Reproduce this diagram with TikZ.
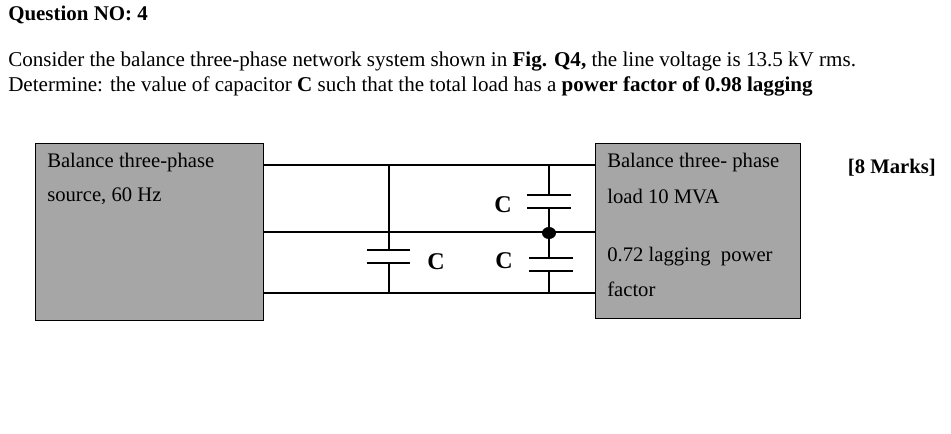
\documentclass[tikz,border=0pt]{standalone}
\usepackage{fontspec}
\setmainfont{Liberation Serif}
\begin{document}
\begin{tikzpicture}[x=0.75pt,y=-0.75pt,
  box/.style={draw=black,fill=black!35,line width=0.8pt},
  wire/.style={line width=1.4pt},
  plate/.style={line width=1.4pt},
  txt/.style={anchor=west,inner sep=0pt,font=\fontsize{15.8pt}{18pt}\selectfont},
  lbl/.style={anchor=west,inner sep=0pt,font=\fontsize{15.5pt}{18pt}\selectfont},
  cl/.style={inner sep=0pt,font=\fontsize{18pt}{20pt}\selectfont\bfseries}]
\useasboundingbox (0,0) rectangle (951,433);
\node[txt,font=\fontsize{15.7pt}{18pt}\selectfont\bfseries] (q) at (8,15) {Question NO: 4};
\node[txt] (l1) at (8,62) {Consider the balance three-phase network system shown in \textbf{Fig. Q4,} the line voltage is 13.5 kV rms.};
\node[txt] (l2) at (8,86) {Determine: the value of capacitor \textbf{C} such that the total load has a \textbf{power factor of 0.98 lagging}};
\node[txt,anchor=east,font=\fontsize{15.5pt}{18pt}\selectfont\bfseries] (m) at (936,168) {[8 Marks]};
\node[box,minimum width=171pt,minimum height=132.75pt,anchor=north west] (src) at (35,143) {};
\node[box,minimum width=153.75pt,minimum height=131.25pt,anchor=north west] (ld) at (595,143) {};
\node[lbl] (s1) at (47,163) {Balance three-phase};
\node[lbl] (s2) at (47,196) {source, 60 Hz};
\node[lbl] (d1) at (607,163) {Balance three- phase};
\node[lbl] (d2) at (607,196) {load 10 MVA};
\node[lbl] (d3) at (607,257) {0.72 lagging\ \ power};
\node[lbl] (d4) at (607,289) {factor};
% wires
\coordinate (a1) at (263,165); \coordinate (a2) at (595,165);
\coordinate (b1) at (263,232); \coordinate (b2) at (595,232);
\coordinate (c1) at (263,293); \coordinate (c2) at (595,293);
\draw[wire] (a1) -- (a2); \draw[wire] (b1) -- (b2); \draw[wire] (c1) -- (c2);
% left capacitor
\coordinate (L1) at (389,165); \coordinate (Lp1) at (389,250);
\coordinate (Lp2) at (389,263); \coordinate (L2) at (389,293);
\draw[wire] (L1) -- (Lp1); \draw[wire] (Lp2) -- (L2);
\draw[plate] (367,250) -- (410,250); \draw[plate] (367,263) -- (410,263);
\node[cl] (cL) at (436,262) {C};
% right capacitors
\coordinate (R1) at (549,165); \coordinate (Rp1) at (549,195);
\coordinate (Rp2) at (549,208); \coordinate (Rd) at (549,233);
\coordinate (Rp3) at (549,258); \coordinate (Rp4) at (549,271);
\coordinate (R2) at (549,293);
\draw[wire] (R1) -- (Rp1); \draw[wire] (Rp2) -- (Rd) -- (Rp3); \draw[wire] (Rp4) -- (R2);
\draw[plate] (527,195) -- (571,195); \draw[plate] (527,208) -- (571,208);
\draw[plate] (529,258) -- (573,258); \draw[plate] (529,271) -- (573,271);
\fill (Rd) ellipse (7 and 6);
\node[cl] (cR1) at (503,205) {C};
\node[cl] (cR2) at (504,261) {C};
\end{tikzpicture}
\end{document}
